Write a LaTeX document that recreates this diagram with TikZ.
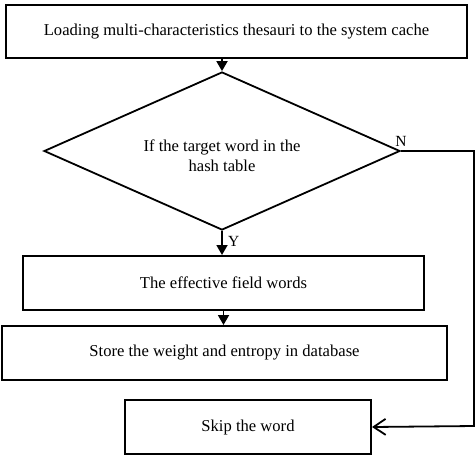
\documentclass[tikz,border=0pt]{standalone}
\usepackage{fontspec}
\setmainfont{Liberation Serif}
\usetikzlibrary{shapes.geometric,arrows.meta}
\begin{document}
\begin{tikzpicture}[x=1pt,y=-1pt,
  every node/.style={font=\fontsize{16.6}{20}\selectfont},
  box/.style={draw,line width=2pt,inner sep=0pt,anchor=north west},
  decide/.style={draw,diamond,line width=1.8pt,inner sep=0pt,minimum width=356pt,minimum height=158pt},
  conn/.style={line width=1.8pt},
  fillarrow/.style={conn,-{Triangle[width=11pt,length=10pt]}},
  openarrow/.style={conn,-{Straight Barb[width=16pt,length=12pt,line width=1.8pt]}},
  lbl/.style={font=\fontsize{15.5}{18}\selectfont}]
\useasboundingbox (0,0) rectangle (476,456);
\node[box,minimum width=461pt,minimum height=53pt] (load) at (5,4) {Loading multi-characteristics thesauri to the system cache};
\node[decide] (hash) at (222,151) {};
\node[align=center] (hasht) at (222,156) {If the target word in the\\hash table};
\node[box,minimum width=401pt,minimum height=54pt] (eff) at (22,255) {The effective field words};
\node[box,minimum width=445pt,minimum height=54pt] (store) at (1,325) {Store the weight and entropy in database};
\node[box,minimum width=246pt,minimum height=54pt] (skip) at (124,399) {Skip the word};
\coordinate (c1) at (474,151);
\coordinate (c2) at (474,426);
\draw[fillarrow] (load.south -| hash.north) -- (hash.north);
\draw[fillarrow] (hash.south) -- (hash.south |- eff.north) node[lbl,pos=0.45,right=2pt] (y) {Y};
\draw[fillarrow] (eff.south) -- (eff.south |- store.north);
\draw[openarrow] (hash.east) -- (c1) -- (c2) -- (skip.east);
\node[lbl,anchor=south] (n) at (401,150) {N};
\end{tikzpicture}
\end{document}
